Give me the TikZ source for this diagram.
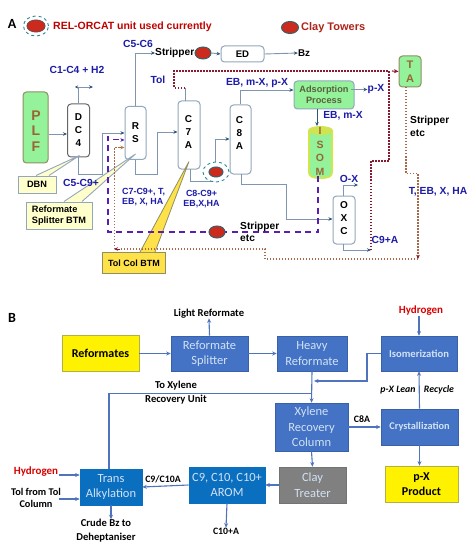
\documentclass[tikz,border=0pt]{standalone}
\usepackage{fontspec}
\setmainfont{Carlito}
\newfontfamily\arialf{Liberation Sans}
\usetikzlibrary{arrows.meta,calc,shapes.geometric}
\definecolor{pipe}{HTML}{7F96B0}
\definecolor{pipetip}{HTML}{2F5578}
\definecolor{colb}{HTML}{93A7BC}
\definecolor{lblue}{HTML}{1C1CA8}
\definecolor{lgreen}{HTML}{93F29A}
\definecolor{olive}{HTML}{8F8F62}
\definecolor{purp}{HTML}{5A1FB0}
\definecolor{ored}{HTML}{CC2A1C}
\definecolor{oedge}{HTML}{3D5F66}
\definecolor{teal2}{HTML}{2B8A9E}
\definecolor{dred}{HTML}{8A1A30}
\definecolor{brn}{HTML}{A8694A}
\definecolor{pale}{HTML}{FFFFCC}
\definecolor{tolyel}{HTML}{FFE24A}
\definecolor{bblue}{HTML}{4472C4}
\definecolor{cblue}{HTML}{0B6FC0}
\definecolor{bline}{HTML}{4F74BD}
\definecolor{btext}{HTML}{D2E2F5}
\tikzset{
 cbox/.style={draw=colb,line width=1,fill=white,rounded corners=3.5,inner sep=0,align=center,
   font=\arialf\bfseries\fontsize{10}{13}\selectfont},
 dbox/.style={cbox,draw=black!60},
 coltxt/.style={inner sep=0,align=center,font=\arialf\bfseries\fontsize{10}{13}\selectfont},
 gbox/.style={draw=olive,line width=1,fill=lgreen,rounded corners=3.5,inner sep=0,align=center},
 lab/.style={inner sep=0,align=center,text=lblue,font=\arialf\bfseries\fontsize{10.3}{12}\selectfont},
 labs/.style={lab,font=\arialf\bfseries\fontsize{8.9}{10.8}\selectfont},
 blk/.style={inner sep=0,align=left,text=black,font=\arialf\bfseries\fontsize{10.2}{12.5}\selectfont},
 clay/.style={ellipse,draw=oedge,line width=1,fill=ored,inner sep=0,minimum width=15,minimum height=11},
 halo/.style={ellipse,draw=teal2,dashed,line width=.9,fill=white,inner sep=0,minimum width=26,minimum height=20},
 callout/.style={draw=colb,line width=1,fill=pale,inner sep=0,align=left,text=black,
   font=\arialf\bfseries\fontsize{9.2}{11}\selectfont},
 pipeline/.style={draw=pipe,line width=.9,-{Stealth[length=4,width=3.5,color=pipetip]}},
 plain/.style={draw=pipe,line width=.9},
 purpd/.style={draw=purp,line width=1.1,dash pattern=on 6pt off 4.5pt},
 redd/.style={draw=dred,line width=1.5,dash pattern=on 1.5pt off 1.5pt},
 brnd/.style={draw=brn,line width=1.5,dash pattern=on 1.5pt off 1.5pt},
 bbox/.style={draw=bblue!85!black,line width=.6,fill=bblue,inner sep=0,align=center,text=btext,
   font=\fontsize{12.5}{15.5}\selectfont},
 cyan2/.style={bbox,fill=cblue,draw=cblue},
 ybox/.style={draw=olive!70!yellow,line width=.8,fill=yellow,inner sep=0,align=center,text=black,
   font=\bfseries\fontsize{12}{15}\selectfont},
 bflow/.style={draw=bline,line width=1.1,-{Stealth[length=4.5,width=4,color=bline]}},
 bplain/.style={draw=bline,line width=1.1},
 btxt/.style={inner sep=0,align=center,text=black,font=\bfseries\fontsize{10.6}{14}\selectfont},
 btxs/.style={btxt,font=\bfseries\fontsize{9.8}{13}\selectfont},
 rtxt/.style={inner sep=0,align=center,text=red!85!black,font=\bfseries\fontsize{11}{13}\selectfont},
 panel/.style={inner sep=0,text=black,font=\bfseries\fontsize{14}{14}\selectfont},
}
\begin{document}
\begin{tikzpicture}[x=1pt,y=-1pt]
\useasboundingbox (0,0) rectangle (474,556);
\fill[white] (0,0) rectangle (474,556);

%%% PANEL A
\node[panel] (pa) at (12,24) {A};
\node[halo,minimum width=25,minimum height=20] (leg1h) at (36,26) {};
\node[clay,minimum width=18,minimum height=12,draw=oedge!50!ored] (leg1) at (36,26) {};
\node[inner sep=0,anchor=west,text=red!75!black,font=\arialf\bfseries\fontsize{10.5}{12}\selectfont] (leg1t) at (53,26.5) {REL-ORCAT unit used currently};
\node[clay,minimum width=17,minimum height=12] (leg2) at (290,27.5) {};
\node[inner sep=0,anchor=west,text=ored!85!black,font=\arialf\bfseries\fontsize{11}{12}\selectfont] (leg2t) at (301,27.5) {Clay Towers};

\node[gbox,minimum width=25,minimum height=71] (plf) at (35.5,127.5) {};
\node[coltxt,text=brown!80!black,font=\arialf\bfseries\fontsize{14}{15.5}\selectfont] (plft) at (36,131) {P\\L\\F};
\node[dbox,minimum width=22,minimum height=53] (dc4) at (78.5,130.5) {D\\C\\4};
\node[cbox,minimum width=21,minimum height=53] (rs) at (135.5,133) {R\\S};
\node[cbox,minimum width=22,minimum height=68] (c7a) at (189,135) {};
\node[coltxt] (c7at) at (188.5,132.5) {C\\7\\A};
\node[cbox,minimum width=21,minimum height=69] (c8a) at (240.5,139.5) {};
\node[coltxt] (c8at) at (239.5,133) {C\\8\\A};
\node[cbox,minimum width=22,minimum height=48] (oxc) at (344,220) {};
\node[coltxt] (oxct) at (344,218.5) {O\\X\\C};
\node[gbox,minimum width=22,minimum height=31,text=brown!80!black,font=\arialf\bfseries\fontsize{11}{13.5}\selectfont] (ta) at (410,71.5) {T\\A};
\node[gbox,draw=colb,minimum width=60,minimum height=28,text=olive!65!black,font=\arialf\bfseries\fontsize{9.2}{11}\selectfont] (ads) at (324,95) {Adsorption\\Process};
\node[cbox,minimum width=43,minimum height=16,font=\arialf\bfseries\fontsize{9.6}{10}\selectfont] (ed) at (242.5,54) {ED};
\node[blk,anchor=west] (strip1) at (155,53) {Stripper};
\node[clay,minimum width=16,minimum height=12] (clay1) at (203,53) {};
\node[inner sep=0,align=center] (bz) at (304,53) {\arialf\bfseries\fontsize{9.8}{10}\selectfont Bz};
\node[lab] (px) at (376,89.5) {p-X};

% ISOM cylinder
\fill[yellow!60!lgreen] (308,131) -- (308,172) .. controls (308,177) and (312,179) .. (320.5,179) .. controls (329,179) and (333,177) .. (333,172) -- (333,131) -- cycle;
\fill[lgreen] (310,131) -- (310,172) .. controls (310,176) and (313,177) .. (320.5,177) .. controls (328,177) and (331,176) .. (331,172) -- (331,131) -- cycle;
\fill[yellow!55!lgreen] (320.5,130.5) ellipse (12.5 and 4.5);
\node[inner sep=0,align=center,text=brown!80!black,font=\arialf\bfseries\fontsize{10.5}{13.6}\selectfont] (isom) at (320,151.5) {I\\S\\O\\M};

% callouts
\node[callout,minimum width=38,minimum height=17,align=center] (dbn) at (37,184.5) {DBN};
\node[callout,minimum width=66,minimum height=27,align=left] (rsb) at (59,215.5) {Reformate\\Splitter BTM};
\node[callout,draw=olive,fill=tolyel,minimum width=63,minimum height=21,align=center,font=\arialf\bfseries\fontsize{9}{11}\selectfont] (tcb) at (134,263) {Tol Col BTM};
\draw[colb,line width=.9,fill=pale] ([xshift=-1]dbn.north) -- ([xshift=1,yshift=2]dc4.south) -- ([xshift=12]dbn.north);
\draw[colb,line width=.9,fill=pale] ([xshift=5]rsb.north) -- ([yshift=6]rs.south) -- ([xshift=23]rsb.north);
\draw[olive,line width=.8,fill=tolyel] ([xshift=6]tcb.north) -- ([xshift=0,yshift=8]c7a.south) -- ([xshift=21]tcb.north);

% pipes
\coordinate (j1) at (102,174);
\coordinate (j2) at (157,174);
\coordinate (j3) at (215,181);
\draw[pipeline] (plf.east |- 0,134) -- (dc4.west |- 0,134);
\draw[plain] (dc4.north) -- (78.5,87);
\draw[pipeline,{Stealth[length=3,width=3,color=pipetip]}-{Stealth[length=4,width=3.5,color=pipetip]}] (75,87) -- (93,87);
\draw[pipeline] (dc4.south) |- (j1) -- (102,133) -- (rs.west |- 0,133);
\draw[pipeline] (rs.north) |- (strip1.west);
\draw[pipeline] (rs.south) |- (j2) -- (157,132) -- (c7a.west |- 0,132);
\draw[pipeline] (clay1.east) -- (ed.west);
\draw[pipeline] (ed.east) -- (bz.west);
\draw[pipeline] (190,169) |- (j3) -- (215,139) -- (c8a.west |- 0,139);
\draw[pipeline] (c8a.north) |- (ads.west |- 0,90);
\draw[pipeline] (351,89.5) -- (px.west);
\draw[pipeline,draw=pipetip] (317,109) -- (317,126);
\draw[pipeline] (241,174) |- (286,184) -- (286,219) -- (oxc.west |- 0,219);
\draw[pipeline] (343,196) |- (358,185);
\draw[pipeline] (343,244) |- (371,250);
\draw[plain] (185,101) -- (185,88);

% halo tower at C7A / C8A
\node[halo] (halo2) at (216,172) {};
\node[clay,minimum width=14,minimum height=10] (clay2) at (216,172) {};

% purple dashed
\draw[purpd] (318,176) -- (318,232) -- (108,232) -- (108,136);
\draw[draw=purp,line width=1,-{Stealth[length=4,width=3.5,color=purp]},dash pattern=on 6pt off 1.5pt] (113,140) -- (rs.west |- 0,140);
\node[clay,minimum width=16,minimum height=12] (clay3) at (217,232) {};
\node[blk,anchor=west] (strip2) at (240,232) {Stripper\\etc};

% dotted lines
\draw[redd] (185,88) -- (174,88) -- (174,71) -- (389,71);
\draw[redd] (371,250) -- (371,161) -- (389,161) -- (389,71);
\draw[draw=dred,line width=1.1,-{Stealth[length=4.5,width=4,color=dred]}] (392,71) -- (ta.west);
\draw[brnd,-{Stealth[length=4,width=3.5,color=dred]}] (406,87) -- (406,173.5) -- (418,173.5) -- (418,259);
\draw[brnd] (418,259) -- (265,259) -- (265,249) -- (120,249);
\draw[draw=dred,-{Stealth[length=4,width=3.5,color=dred]},line width=.9] (120,249) -- (114,249);
\draw[brnd] (114.5,249) -- (114.5,147.5) -- (120,147.5);
\draw[draw=brn,line width=.9,-{Stealth[length=4,width=3.5,color=brown]},dash pattern=on 1.5pt off 1pt] (120,147.5) -- (rs.west |- 0,147.5);

% labels panel A
\node[lab] (l1) at (138,43.5) {C5-C6};
\node[lab] (l2) at (77,69.5) {C1-C4 + H2};
\node[lab] (l3) at (158,79.5) {Tol};
\node[lab] (l4) at (257,83.5) {EB, m-X, p-X};
\node[lab] (l5) at (343,116) {EB, m-X};
\node[lab] (l6) at (81,182.5) {C5-C9+};
\node[labs,align=left,anchor=west] (l7) at (122,197) {C7-C9+, T,\\EB, X, HA};
\node[labs] (l8) at (201.5,199) {C8-C9+\\EB,X,HA};
\node[lab] (l9) at (349,178.5) {O-X};
\node[lab] (l10) at (385,240) {C9+A};
\node[lab] (l11) at (438,191.5) {T, EB, X, HA};
\node[blk,anchor=west] (l12) at (410,126.5) {Stripper\\etc};

%%% PANEL B
\node[panel] (pb) at (12,318) {B};
\node[ybox,minimum width=77,minimum height=36] (ref) at (100.5,353.5) {Reformates};
\node[bbox,minimum width=77,minimum height=35] (rsp) at (209.5,353.5) {Reformate\\Splitter};
\node[bbox,minimum width=70,minimum height=35] (hr) at (312,353.5) {Heavy\\Reformate};
\node[bbox,minimum width=76,minimum height=35,font=\bfseries\fontsize{10.6}{14}\selectfont] (iso) at (419,353.5) {Isomerization};
\node[bbox,minimum width=73,minimum height=48] (xrc) at (311.5,427) {Xylene\\Recovery\\Column};
\node[bbox,minimum width=77,minimum height=36,font=\bfseries\fontsize{10.3}{14}\selectfont] (cry) at (419.5,427) {Crystallization};
\node[ybox,minimum width=73,minimum height=36] (pxp) at (421.5,484) {p-X\\Product};
\node[bbox,fill=black!50,draw=black!55,minimum width=67,minimum height=36] (clt) at (312.5,485) {Clay\\Treater};
\node[cyan2,minimum width=76,minimum height=36] (arom) at (227,485) {C9, C10, C10+\\AROM};
\node[cyan2,minimum width=62,minimum height=36] (tra) at (111,487) {Trans\\Alkylation};
\node[btxt] (lref) at (209,313.5) {Light Reformate};
\node[rtxt] (hyd1) at (421,311) {Hydrogen};
\node[rtxt] (hyd2) at (36,472) {Hydrogen};
\node[btxt,font=\bfseries\fontsize{10.3}{12}\selectfont] (tol) at (36,498) {Tol from Tol\\Column};
\node[btxt] (cbz) at (106,531) {Crude Bz to\\Deheptaniser};
\node[btxs] (c10) at (226,531) {C10+A};
\node[btxs] (c9a) at (163,479) {C9/C10A};
\node[btxs] (c8) at (362,419) {C8A};
\node[btxt] (toxy) at (176,393) {To Xylene\\Recovery Unit};
\node[btxs,font=\bfseries\itshape\fontsize{9.8}{12}\selectfont] (lean1) at (398,390) {p-X Lean};
\node[btxs,font=\bfseries\itshape\fontsize{9.8}{12}\selectfont] (lean2) at (439,390) {Recycle};

\draw[bflow] (ref.east) -- (rsp.west);
\draw[bflow] (rsp.north) -- (lref.south);
\draw[bflow] (rsp.east) -- (hr.west);
\draw[bflow] (hyd1.south -| iso.north) -- (iso.north);
\draw[bflow] (iso.west) -| (367,381) -- (314,381);
\draw[bflow] (hr.south) -- (xrc.north);
\draw[bplain] ([xshift=-2]tra.north) |- (hr.south |- 0,393.5);
\draw[bflow] (cry.north) -- (iso.south);
\draw[bflow] (xrc.east) -- (cry.west);
\draw[bflow] (cry.south) -- (pxp.north -| cry.south);
\draw[bflow] (xrc.south) -- (clt.north);
\draw[bflow] (clt.west) -- (arom.east);
\draw[bflow] (arom.west) -- (tra.east);
\draw[bflow] (arom.south) -- (c10.north);
\draw[bflow] (tra.south) -- (cbz.north -| tra.south);
\draw[bflow] (hyd2.east) ++(1,3) -- (tra.west |- 0,475);
\draw[bflow] (59,499) -- (tra.west |- 0,499);
\end{tikzpicture}
\end{document}
